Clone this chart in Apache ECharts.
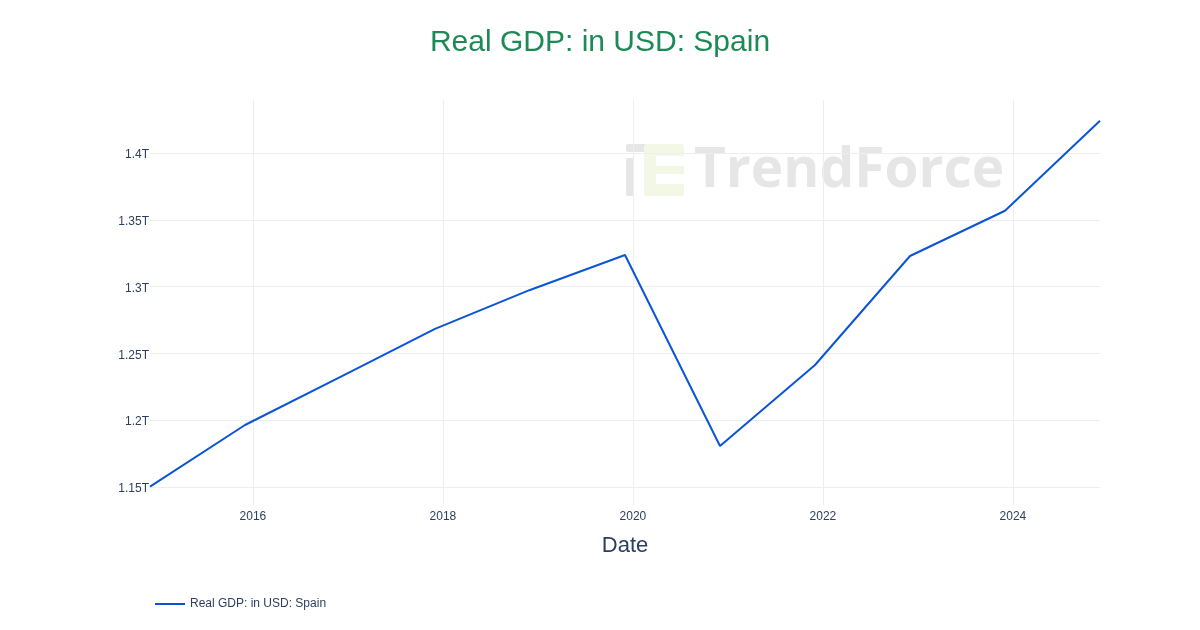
<!DOCTYPE html>
<html>
<head>
<meta charset="utf-8">
<title>Real GDP: in USD: Spain</title>
<script src="https://cdn.jsdelivr.net/npm/echarts@6/dist/echarts.min.js"></script>
<style>
  html, body { margin: 0; padding: 0; background: #fff; }
  #chart { width: 1200px; height: 630px; }
</style>
</head>
<body>
<div id="chart"></div>
<script>
// observation dates (year-month) and real GDP in USD
var dates = ["2014-12", "2015-12", "2016-12", "2017-12", "2018-12", "2019-12",
             "2020-12", "2021-12", "2022-12", "2023-12", "2024-12"];
var gdp = [1.1502e12, 1.1964e12, 1.2323e12, 1.2683e12, 1.2975e12, 1.3237e12,
           1.1807e12, 1.2413e12, 1.3229e12, 1.3568e12, 1.4242e12];
var yTicks = [1.15e12, 1.2e12, 1.25e12, 1.3e12, 1.35e12, 1.4e12];
var xTicks = [2016, 2018, 2020, 2022, 2024];

var seriesName = "Real GDP: in USD: Spain";
var lineColor = "#0b55d5";
var textColor = "#2a3f5f";
var gridColor = "#eeeeee";
var font = "'Liberation Sans', Arial, sans-serif";

function toYear(d) {
  var p = d.split("-");
  return +p[0] + (+p[1] - 1) / 12;
}

var points = dates.map(function (d, i) { return [toYear(d), gdp[i]]; });

var chartDom = document.getElementById("chart");
var myChart = echarts.init(chartDom);
var option;

function isTick(list, v) {
  for (var i = 0; i < list.length; i++) {
    if (Math.abs(list[i] - v) < 1e-6 * Math.abs(list[i])) return true;
  }
  return false;
}

option = {
  animation: false,
  textStyle: { fontFamily: font },
  title: {
    text: "Real GDP: in USD: Spain",
    left: "center",
    top: 23,
    textStyle: { color: "#1b8a56", fontSize: 30, fontWeight: "normal", fontFamily: font }
  },
  grid: { left: 150, right: 100, top: 100, bottom: 125 },
  legend: {
    left: 150,
    top: 593,
    icon: "rect",
    itemWidth: 30,
    itemHeight: 2,
    itemGap: 10,
    textStyle: { color: textColor, fontSize: 12, fontFamily: font },
    data: [seriesName]
  },
  graphic: [
    {
      type: "group",
      left: 626,
      top: 144,
      silent: true,
      z: 0,
      children: [
        { type: "rect", shape: { x: 0, y: 2, width: 36, height: 8, r: 2 }, style: { fill: "#e6e6e6" } },
        { type: "rect", shape: { x: 0, y: 16, width: 8, height: 38, r: 2 }, style: { fill: "#e6e6e6" } },
        { type: "rect", shape: { x: 18, y: 2, width: 40, height: 52, r: 3 }, style: { fill: "#f2f7e6" } },
        { type: "rect", shape: { x: 30, y: 14, width: 28, height: 10 }, style: { fill: "#ffffff" } },
        { type: "rect", shape: { x: 30, y: 32, width: 28, height: 10 }, style: { fill: "#ffffff" } }
      ]
    },
    {
      type: "text",
      left: 694,
      top: 144,
      silent: true,
      z: 0,
      style: {
        text: "TrendForce",
        fill: "#e6e6e6",
        font: "bold 55px 'Open Sans', 'DejaVu Sans', sans-serif"
      }
    }
  ],
  xAxis: {
    type: "value",
    min: toYear(dates[0]),
    max: toYear(dates[dates.length - 1]),
    splitNumber: 5,
    name: "Date",
    nameLocation: "middle",
    nameGap: 30,
    nameTextStyle: { color: textColor, fontSize: 22, fontFamily: font },
    axisLine: { show: false },
    axisTick: { show: false },
    axisLabel: {
      color: textColor,
      fontSize: 12,
      margin: 6,
      formatter: function (v) { return isTick(xTicks, v) ? String(Math.round(v)) : ""; }
    },
    splitLine: {
      show: true,
      lineStyle: { color: ["rgba(0,0,0,0)", gridColor, gridColor, gridColor, gridColor, gridColor, "rgba(0,0,0,0)"], width: 1 }
    }
  },
  yAxis: {
    type: "value",
    min: 1.1365e12,
    max: 1.4397e12,
    splitNumber: 6,
    axisLine: { show: false },
    axisTick: { show: false },
    axisLabel: {
      color: textColor,
      fontSize: 12,
      margin: 1,
      formatter: function (v) {
        return isTick(yTicks, v) ? "{t|" + parseFloat((v / 1e12).toFixed(2)) + "T}" : "";
      },
      rich: {
        t: { color: textColor, fontSize: 12, fontFamily: font, padding: [4, 0, 0, 0] }
      }
    },
    splitLine: {
      show: true,
      lineStyle: { color: ["rgba(0,0,0,0)", gridColor, gridColor, gridColor, gridColor, gridColor, gridColor, "rgba(0,0,0,0)"], width: 1 }
    }
  },
  series: [
    {
      name: seriesName,
      type: "line",
      data: points,
      showSymbol: false,
      symbol: "none",
      z: 5,
      lineStyle: { color: lineColor, width: 2 },
      itemStyle: { color: lineColor }
    }
  ]
};

option && myChart.setOption(option);
</script>
</body>
</html>
